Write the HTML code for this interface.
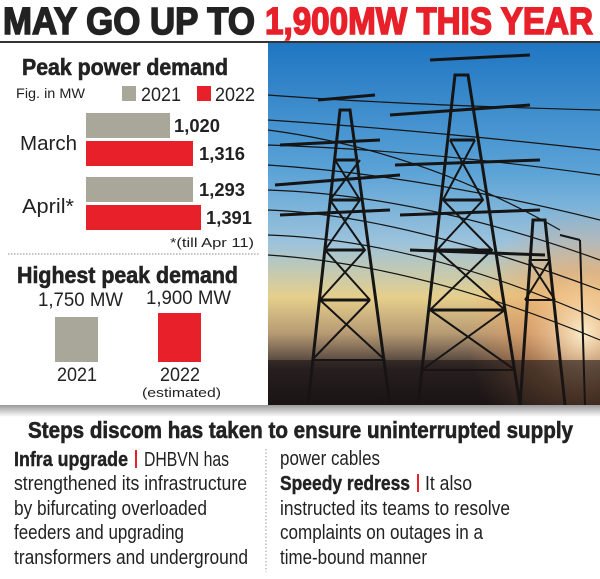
<!DOCTYPE html>
<html><head><meta charset="utf-8"><style>
html,body{margin:0;padding:0;background:#fff;}
svg{display:block;}
</style></head><body>
<svg width="600" height="579" viewBox="0 0 600 579" xmlns="http://www.w3.org/2000/svg" font-family="Liberation Sans Narrow, Liberation Sans, sans-serif">
<defs>
<linearGradient id="sky" x1="0" y1="0" x2="0" y2="1">
<stop offset="0" stop-color="#1f76c2"/>
<stop offset="0.35" stop-color="#5aa2d6"/>
<stop offset="0.55" stop-color="#9cc3dc"/>
<stop offset="0.7" stop-color="#e6cf8c"/>
<stop offset="0.8" stop-color="#b79a74"/>
<stop offset="0.9" stop-color="#3a3030"/>
<stop offset="1" stop-color="#1a1414"/>
</linearGradient>
<radialGradient id="sun" cx="0.95" cy="0.8" r="0.35">
<stop offset="0" stop-color="#fff2d0" stop-opacity="0.95"/>
<stop offset="0.5" stop-color="#f0a060" stop-opacity="0.5"/>
<stop offset="1" stop-color="#f0a060" stop-opacity="0"/>
</radialGradient>
<linearGradient id="shade" x1="0" y1="0" x2="0" y2="1">
<stop offset="0" stop-color="#9a9a9a"/>
<stop offset="1" stop-color="#fff"/>
</linearGradient>
</defs>
<rect width="600" height="579" fill="#fff"/>
<!-- title -->
<text x="3" y="34" font-size="38" font-weight="bold" fill="#222" stroke="#222" stroke-width="1.6" textLength="252" lengthAdjust="spacingAndGlyphs">MAY GO UP TO</text>
<text x="265" y="34" font-size="38" font-weight="bold" fill="#e8202a" stroke="#e8202a" stroke-width="1.6" textLength="328" lengthAdjust="spacingAndGlyphs">1,900MW THIS YEAR</text>
<rect x="0" y="41" width="600" height="2" fill="#333"/>
<!-- photo -->
<rect x="268" y="43" width="332" height="363" fill="url(#sky)"/>
<rect x="268" y="43" width="332" height="363" fill="url(#sun)"/>
<g stroke="#151515" fill="none" stroke-width="3">
<g stroke-width="1.2">
<path d="M268 95 Q400 105 600 110"/>
<path d="M268 120 Q420 130 600 150"/>
<path d="M268 145 Q420 150 600 175"/>
<path d="M268 165 Q420 175 600 220"/>
<path d="M268 190 Q420 195 600 260"/>
<path d="M268 210 Q400 215 600 290"/>
<path d="M268 235 Q420 240 600 320"/>
<path d="M268 255 Q420 265 600 340"/>
<path d="M268 130 Q420 150 560 230"/>
</g>
<!-- tower 1 -->
<path d="M308 405 L340 110 L350 110 L390 405"/>
<path d="M320 300 L370 300 M325 250 L365 250 M330 200 L360 200 M335 160 L355 160"/>
<path d="M320 300 L365 250 L330 200 L360 160 M370 300 L325 250 L360 200 L335 160" stroke-width="2"/>
<path d="M312 360 L385 360 M312 360 L370 300 M385 360 L320 300" stroke-width="2"/>
<path d="M280 145 L380 140 M275 185 L400 175 M280 215 L390 210"/>
<path d="M318 100 L375 95"/>
<!-- tower 2 -->
<path d="M418 405 L455 75 L468 75 L520 405"/>
<path d="M430 310 L505 310 M437 250 L492 250 M443 200 L483 200 M450 140 L475 140"/>
<path d="M430 310 L492 250 L443 200 L475 140 M505 310 L437 250 L483 200 L450 140" stroke-width="2"/>
<path d="M422 370 L515 370 M422 370 L505 310 M515 370 L430 310" stroke-width="2"/>
<path d="M390 115 L530 105 M395 165 L540 160 M400 215 L540 210 M410 250 L545 255"/>
<path d="M430 60 L530 55"/>
<!-- tower 3 -->
<path d="M520 405 L533 220 L545 220 L565 405"/>
<path d="M525 300 L555 300 M529 260 L550 260 M525 300 L550 260 M555 300 L529 260" stroke-width="2"/>
<path d="M560 235 L580 240 M580 240 L585 405" stroke-width="2"/>
</g>
<rect x="268" y="360" width="332" height="46" fill="#1a1414" opacity="0.6"/>
<rect x="0" y="405" width="600" height="12" fill="url(#shade)"/>

<!-- left chart -->
<text x="22" y="75" font-size="23" font-weight="bold" fill="#222" stroke="#222" stroke-width="0.6" textLength="206" lengthAdjust="spacingAndGlyphs">Peak power demand</text>
<text x="16" y="98" font-size="14" fill="#222" textLength="69" lengthAdjust="spacingAndGlyphs">Fig. in MW</text>
<rect x="122" y="86" width="14" height="15" fill="#a9a79a"/>
<text x="141" y="101" font-size="19" fill="#222" textLength="40" lengthAdjust="spacingAndGlyphs">2021</text>
<rect x="197" y="86" width="14" height="15" fill="#e8202a"/>
<text x="215" y="101" font-size="19" fill="#222" textLength="40" lengthAdjust="spacingAndGlyphs">2022</text>

<text x="20" y="150" font-size="20" fill="#222" textLength="57" lengthAdjust="spacingAndGlyphs">March</text>
<rect x="86" y="113" width="84" height="25" fill="#a9a79a"/>
<rect x="86" y="141" width="107" height="25" fill="#e8202a"/>
<text x="174" y="132" font-size="18" font-weight="bold" fill="#222" textLength="46" lengthAdjust="spacingAndGlyphs">1,020</text>
<text x="199" y="160" font-size="18" font-weight="bold" fill="#222" textLength="46" lengthAdjust="spacingAndGlyphs">1,316</text>

<text x="22" y="213" font-size="20" fill="#222" textLength="52" lengthAdjust="spacingAndGlyphs">April*</text>
<rect x="86" y="177" width="107" height="25" fill="#a9a79a"/>
<rect x="86" y="205" width="115" height="25" fill="#e8202a"/>
<text x="199" y="196" font-size="18" font-weight="bold" fill="#222" textLength="46" lengthAdjust="spacingAndGlyphs">1,293</text>
<text x="206" y="224" font-size="18" font-weight="bold" fill="#222" textLength="46" lengthAdjust="spacingAndGlyphs">1,391</text>
<text x="170" y="247" font-size="13" fill="#222" textLength="84" lengthAdjust="spacingAndGlyphs">*(till Apr 11)</text>
<line x1="8" y1="254" x2="259" y2="254" stroke="#888" stroke-width="1" stroke-dasharray="1.5,1.5"/>

<text x="17" y="283" font-size="23" font-weight="bold" fill="#222" stroke="#222" stroke-width="0.6" textLength="221" lengthAdjust="spacingAndGlyphs">Highest peak demand</text>
<text x="38" y="306" font-size="19" fill="#222" textLength="85" lengthAdjust="spacingAndGlyphs">1,750 MW</text>
<text x="146" y="304" font-size="19" fill="#222" textLength="85" lengthAdjust="spacingAndGlyphs">1,900 MW</text>
<rect x="55" y="317" width="43" height="45" fill="#a9a79a"/>
<rect x="158" y="313" width="43" height="49" fill="#e8202a"/>
<text x="57" y="381" font-size="19" fill="#222" textLength="40" lengthAdjust="spacingAndGlyphs">2021</text>
<text x="160" y="381" font-size="19" fill="#222" textLength="40" lengthAdjust="spacingAndGlyphs">2022</text>
<text x="142" y="397" font-size="13" fill="#222" textLength="79" lengthAdjust="spacingAndGlyphs">(estimated)</text>

<!-- bottom -->
<text x="28" y="438" font-size="23" font-weight="bold" fill="#222" stroke="#222" stroke-width="0.6" textLength="545" lengthAdjust="spacingAndGlyphs">Steps discom has taken to ensure uninterrupted supply</text>
<line x1="266" y1="449" x2="266" y2="572" stroke="#999" stroke-dasharray="1.5,2"/>
<g font-size="20" fill="#222">
<text x="14" y="466" font-weight="bold" stroke="#222" stroke-width="0.4" textLength="114" lengthAdjust="spacingAndGlyphs">Infra upgrade</text>
<rect x="135" y="450" width="2" height="18" fill="#e8202a"/>
<text x="144" y="466" textLength="85" lengthAdjust="spacingAndGlyphs">DHBVN has</text>
<text x="14" y="490" textLength="233" lengthAdjust="spacingAndGlyphs">strengthened its infrastructure</text>
<text x="14" y="515" textLength="193" lengthAdjust="spacingAndGlyphs">by bifurcating overloaded</text>
<text x="14" y="539" textLength="170" lengthAdjust="spacingAndGlyphs">feeders and upgrading</text>
<text x="14" y="564" textLength="234" lengthAdjust="spacingAndGlyphs">transformers and underground</text>
<text x="280" y="465" textLength="100" lengthAdjust="spacingAndGlyphs">power cables</text>
<text x="280" y="490" font-weight="bold" stroke="#222" stroke-width="0.4" textLength="130" lengthAdjust="spacingAndGlyphs">Speedy redress</text>
<rect x="417" y="474" width="2" height="18" fill="#e8202a"/>
<text x="425" y="490" textLength="47" lengthAdjust="spacingAndGlyphs">It also</text>
<text x="280" y="515" textLength="230" lengthAdjust="spacingAndGlyphs">instructed its teams to resolve</text>
<text x="280" y="539" textLength="203" lengthAdjust="spacingAndGlyphs">complaints on outages in a</text>
<text x="280" y="564" textLength="147" lengthAdjust="spacingAndGlyphs">time-bound manner</text>
</g>
</svg>
</body></html>
